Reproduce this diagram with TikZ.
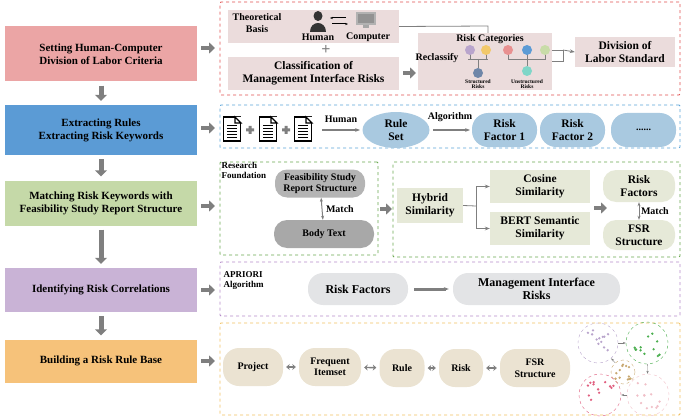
\documentclass[tikz,border=0pt]{standalone}
\usepackage{fontspec}
\setmainfont{Liberation Serif}
\usetikzlibrary{arrows.meta,shapes.geometric}
\definecolor{gr}{HTML}{7F7F7F}
\definecolor{c1}{HTML}{EBA5A5}
\definecolor{c2}{HTML}{5B9BD5}
\definecolor{c3}{HTML}{C5D9A8}
\definecolor{c4}{HTML}{C9B3D6}
\definecolor{c5}{HTML}{F6C27A}
\definecolor{pr}{HTML}{E05050}
\definecolor{pb}{HTML}{5BA3D8}
\definecolor{pg}{HTML}{6AA84F}
\definecolor{pp}{HTML}{B48BC8}
\definecolor{po}{HTML}{F0C060}
\definecolor{pink}{HTML}{EBDCDC}
\definecolor{lb}{HTML}{A9C9E0}
\definecolor{gy1}{HTML}{B4B4B4}
\definecolor{gy2}{HTML}{A8A8A8}
\definecolor{sg}{HTML}{E6E9D8}
\definecolor{lg}{HTML}{E3E4E6}
\definecolor{bg}{HTML}{EBE3D2}
\definecolor{k1}{HTML}{B9A5CC}
\definecolor{k2}{HTML}{F2C96B}
\definecolor{k3}{HTML}{E89090}
\definecolor{k4}{HTML}{5B9BD5}
\definecolor{k5}{HTML}{C8DCA8}
\definecolor{k6}{HTML}{6E86A8}
\definecolor{k7}{HTML}{7FD6C8}
\definecolor{ca}{HTML}{B9A5CC}
\definecolor{cb}{HTML}{4CAF50}
\definecolor{cc}{HTML}{C8A870}
\definecolor{cd}{HTML}{E06080}
\definecolor{ce}{HTML}{F0C0C8}
\tikzset{
 lbox/.style={minimum width=192pt,align=center,font=\bfseries\fontsize{11}{13}\selectfont,inner sep=1pt},
 dpanel/.style={dashed,line width=0.8pt,rounded corners=1pt},
 fat/.style={-{Triangle[length=6pt,width=11pt]},line width=4.5pt,draw=gr},
 fatd/.style={-{Triangle[length=6pt,width=12pt]},line width=5pt,draw=gr},
 thin/.style={-{Stealth[length=5pt]},line width=2.5pt,draw=gr},
 t9/.style={font=\bfseries\fontsize{10}{11.5}\selectfont,align=center,inner sep=0.5pt},
 t11/.style={font=\bfseries\fontsize{11.5}{13}\selectfont,align=center,inner sep=0.5pt},
 t8/.style={font=\bfseries\fontsize{9}{10}\selectfont,align=center,inner sep=0.5pt},
 dbl/.style={{Stealth[length=4pt]}-{Stealth[length=4pt]},line width=1pt,draw=gr},
 sbox/.style={fill=sg,t11},
 bp/.style={fill=bg,rounded corners=16pt,minimum height=38pt,t9},
}
\begin{document}
\begin{tikzpicture}[x=1pt,y=-1pt]
\useasboundingbox (0,0) rectangle (685,417);
% left boxes
\node[lbox,fill=c1,minimum height=55pt] (L1) at (101,54) {Setting Human-Computer\\Division of Labor Criteria};
\node[lbox,fill=c2,minimum height=50pt] (L2) at (101,130) {Extracting Rules\\Extracting Risk Keywords};
\node[lbox,fill=c3,minimum height=45pt] (L3) at (101,203) {Matching Risk Keywords with\\Feasibility Study Report Structure};
\node[lbox,fill=c4,minimum height=44pt] (L4) at (101,290) {Identifying Risk Correlations};
\node[lbox,fill=c5,minimum height=43pt] (L5) at (101,361) {Building a Risk Rule Base};
\foreach \a/\b in {L1/L2,L2/L3,L3/L4,L4/L5}{\draw[fatd] ([yshift=-4pt]\a.south) -- ([yshift=4pt]\b.north);}
% panels
\node[draw=pr,dpanel,minimum width=460pt,minimum height=93pt] (P1) at (450,48.5) {};
\node[draw=pb,dpanel,minimum width=460pt,minimum height=43pt] (P2) at (450,126.5) {};
\node[draw=pg,dpanel,minimum width=158pt,minimum height=93pt] (P3a) at (299,208.5) {};
\node[draw=pg,dpanel,minimum width=287pt,minimum height=95pt] (P3b) at (536.5,209.5) {};
\node[draw=pp,dpanel,minimum width=460pt,minimum height=54pt] (P4) at (450,289) {};
\node[draw=po,dpanel,minimum width=460pt,minimum height=92pt] (P5) at (450,369) {};
\foreach \y in {48,128,206,290,361}{\draw[fat] (201,\y) -- (215,\y);}
% panel1
\node[fill=pink,minimum width=171pt,minimum height=33pt] (TB) at (313.5,26.5) {};
\node[t9,anchor=west] (tbt) at (232,23) {Theoretical\\[1pt]Basis};
\fill[black!80] (318,16) ellipse (4.5pt and 5pt);
\fill[black!80] (310,32) .. controls (310,20) and (326,20) .. (326,32) -- cycle;
\node[t9] (hum) at (318,37) {Human};
\fill[gray!60] (356,12) rectangle (376,25); \fill[gray!85] (358,14) rectangle (374,23); \fill[gray!70] (363,25) rectangle (369,28);
\node[t9] (comp) at (368,37) {Computer};
\draw[-{Stealth[length=3pt]},line width=1pt] (346,18) -- (330,18);
\draw[-{Stealth[length=3pt]},line width=1pt] (332,24) -- (348,24);
\node[font=\bfseries\fontsize{16}{16}\selectfont,text=gr,inner sep=0] (plus) at (326,50) {+};
\node[fill=pink,minimum width=171pt,minimum height=33pt,t11] (CL) at (313.5,73.5) {Classification of\\Management Interface Risks};
\draw[fat] (403,73) -- (416,73);
\node[fill=pink,minimum width=134pt,minimum height=57pt] (RC) at (485,61.5) {};
\node[t9] (rct) at (490,39) {Risk Categories};
\node[t9] (recl) at (437,58) {Reclassify};
\draw[gr,line width=0.8pt] (TB.east) -- (488,26) -- (488,33);
\draw[gr] (468,59)--(488,59) (470,53)--(470,59) (486,53)--(486,59) (478,59)--(478,68);
\draw[gr] (508,59)--(546,59) (508,53)--(508,59) (527,53)--(527,66) (545,53)--(545,59);
\fill[k1] (470,50) circle (5pt);
\fill[k2] (486,50) circle (5pt);
\fill[k3] (508,50) circle (5pt);
\fill[k4] (527,50) circle (5pt);
\fill[k5] (545,50) circle (5pt);
\fill[k6] (478,73) circle (5pt);
\fill[k7] (527,71) circle (5pt);
\node[font=\bfseries\fontsize{5.5}{5.5}\selectfont,align=center,inner sep=0pt] (sr) at (478,84) {Structured\\Risks};
\node[font=\bfseries\fontsize{5.5}{5.5}\selectfont,align=center,inner sep=0pt] (ur) at (527,84) {Unstructured\\Risks};
\node[fill=pink,minimum width=100pt,minimum height=30pt,t11] (DL) at (625,52) {Division of\\Labor Standard};
\draw[gr,line width=0.8pt] (552,50) -- (563,50) -- (563,61) -- (552,61);
\draw[gr,line width=0.8pt,-{Stealth[length=5pt]}] (563,50) -- (DL.west);
% panel2
\foreach \i/\x in {d1/232,d2/268,d3/303}{
 \node[draw,line width=1.2pt,minimum width=17pt,minimum height=24pt,inner sep=0] (\i) at (\x,129) {};
 \foreach \yy in {-4,-1,2,5,8}{\draw[line width=0.9pt] (\x-5,129+\yy) -- (\x+5,129+\yy);}
 \fill[white] (\x+3,117) -- (\x+9,117) -- (\x+9,123) -- cycle;
 \draw[line width=1.2pt] (\x+3,117) -- (\x+3,123) -- (\x+9,123) -- cycle;}
\fill[gr] (246,128.5) rectangle (254,131.5) (248.5,126) rectangle (251.5,134);
\fill[gr] (282,128.5) rectangle (290,131.5) (284.5,126) rectangle (287.5,134);
\node[t9] (hl) at (341,119) {Human};
\draw[thin] (322,130) -- (360,130);
\node[fill=lb,ellipse,minimum width=67pt,minimum height=36pt,t11] (RS) at (396,130) {Rule\\Set};
\node[t9] (al) at (450,117) {Algorithm};
\draw[thin] (433,130) -- (470,130);
\node[fill=lb,rounded corners=16pt,minimum width=65pt,minimum height=34pt,t11] (RF1) at (504.5,130) {Risk\\Factor 1};
\node[fill=lb,rounded corners=16pt,minimum width=65pt,minimum height=34pt,t11] (RF2) at (572.5,130) {Risk\\Factor 2};
\node[fill=lb,rounded corners=16pt,minimum width=65pt,minimum height=34pt,t9] (RF3) at (643.5,130) {......};
% panel3a
\node[t8,anchor=north west,align=left] (RF) at (221,162) {Research\\Foundation};
\node[fill=gy1,rounded corners=12pt,minimum width=90pt,minimum height=28pt,t9] (FS) at (320,183.5) {Feasibility Study\\Report Structure};
\node[fill=gy2,rounded corners=13pt,minimum width=100pt,minimum height=28pt,t9] (BT) at (324,234) {Body Text};
\draw[dbl] (FS) -- (BT) node[midway,right=3pt,t9] {Match};
\draw[fat] (380,209) -- (392,209);
% panel3b
\node[sbox,minimum width=66pt,minimum height=35pt] (HS) at (430,205.5) {Hybrid\\Similarity};
\node[sbox,minimum width=100pt,minimum height=33pt] (CS) at (540,186.5) {Cosine\\Similarity};
\node[sbox,minimum width=100pt,minimum height=33pt] (BS) at (540,228.5) {BERT Semantic\\Similarity};
\draw[gr,line width=0.8pt] (HS.east) -- (476,206);
\draw[gr,line width=0.8pt,-{Stealth[length=5pt]}] (476,206) |- (CS.west);
\draw[gr,line width=0.8pt,-{Stealth[length=5pt]}] (476,206) |- (BS.west);
\draw[fat] (594,208) -- (607,208);
\node[sbox,rounded corners=13pt,minimum width=72pt,minimum height=32pt] (RFs) at (639,186) {Risk\\Factors};
\node[sbox,rounded corners=13pt,minimum width=72pt,minimum height=30pt] (FSR) at (639,235) {FSR\\Structure};
\draw[dbl] (RFs) -- (FSR) node[midway,right=1pt,t9] {Match};
% panel4
\node[t8,anchor=north west,align=left] (AP) at (223,271) {APRIORI\\Algorithm};
\node[fill=lg,rounded corners=15pt,minimum width=100pt,minimum height=32pt,t11,font=\bfseries\fontsize{12}{13.5}\selectfont] (RFa) at (358,289) {Risk Factors};
\node[fill=lg,rounded corners=15pt,minimum width=167pt,minimum height=32pt,t11,font=\bfseries\fontsize{12}{13.5}\selectfont] (MI) at (536.5,289) {Management Interface\\Risks};
\draw[thin,line width=3pt,shorten <=6pt,shorten >=4pt] (RFa) -- (MI);
% panel5
\node[bp,minimum width=60pt] (pj) at (253,367) {Project};
\node[bp,minimum width=62pt] (fi) at (330,367) {Frequent\\Itemset};
\node[bp,minimum width=45pt] (ru) at (402,368) {Rule};
\node[bp,minimum width=44pt] (ri) at (461,368) {Risk};
\node[bp,minimum width=70pt] (fs) at (535,368) {FSR\\Structure};
\foreach \a/\b in {pj/fi,fi/ru,ru/ri,ri/fs}{\draw[{Stealth[length=3.5pt,width=6pt]}-{Stealth[length=3.5pt,width=6pt]},gr,line width=1.4pt,shorten <=3pt,shorten >=3pt] (\a) -- (\b);}
% clusters
\foreach \n/\cx/\cy/\r in {ca/598/343/20,cb/647/343/21,cc/623/372/12,cd/600/395/21,ce/648/395/21}{
 \node[draw=\n,dashed,circle,minimum size=2*\r pt,inner sep=0] (n\n) at (\cx,\cy) {};
 \pgfmathsetseed{\cx}
 \foreach \k in {1,...,12}{\fill[\n] (\cx+rand*\r*0.65,\cy+rand*\r*0.65) circle (1.3pt);}}
\draw[-{Stealth[length=3pt]},gr] (nca) -- (ncb);
\draw[-{Stealth[length=3pt]},gr] (ncb) -- (nce);
\draw[-{Stealth[length=3pt]},gr] (nce) -- (ncd);
\draw[-{Stealth[length=3pt]},gr] (ncc) -- (nca);
\end{tikzpicture}
\end{document}
